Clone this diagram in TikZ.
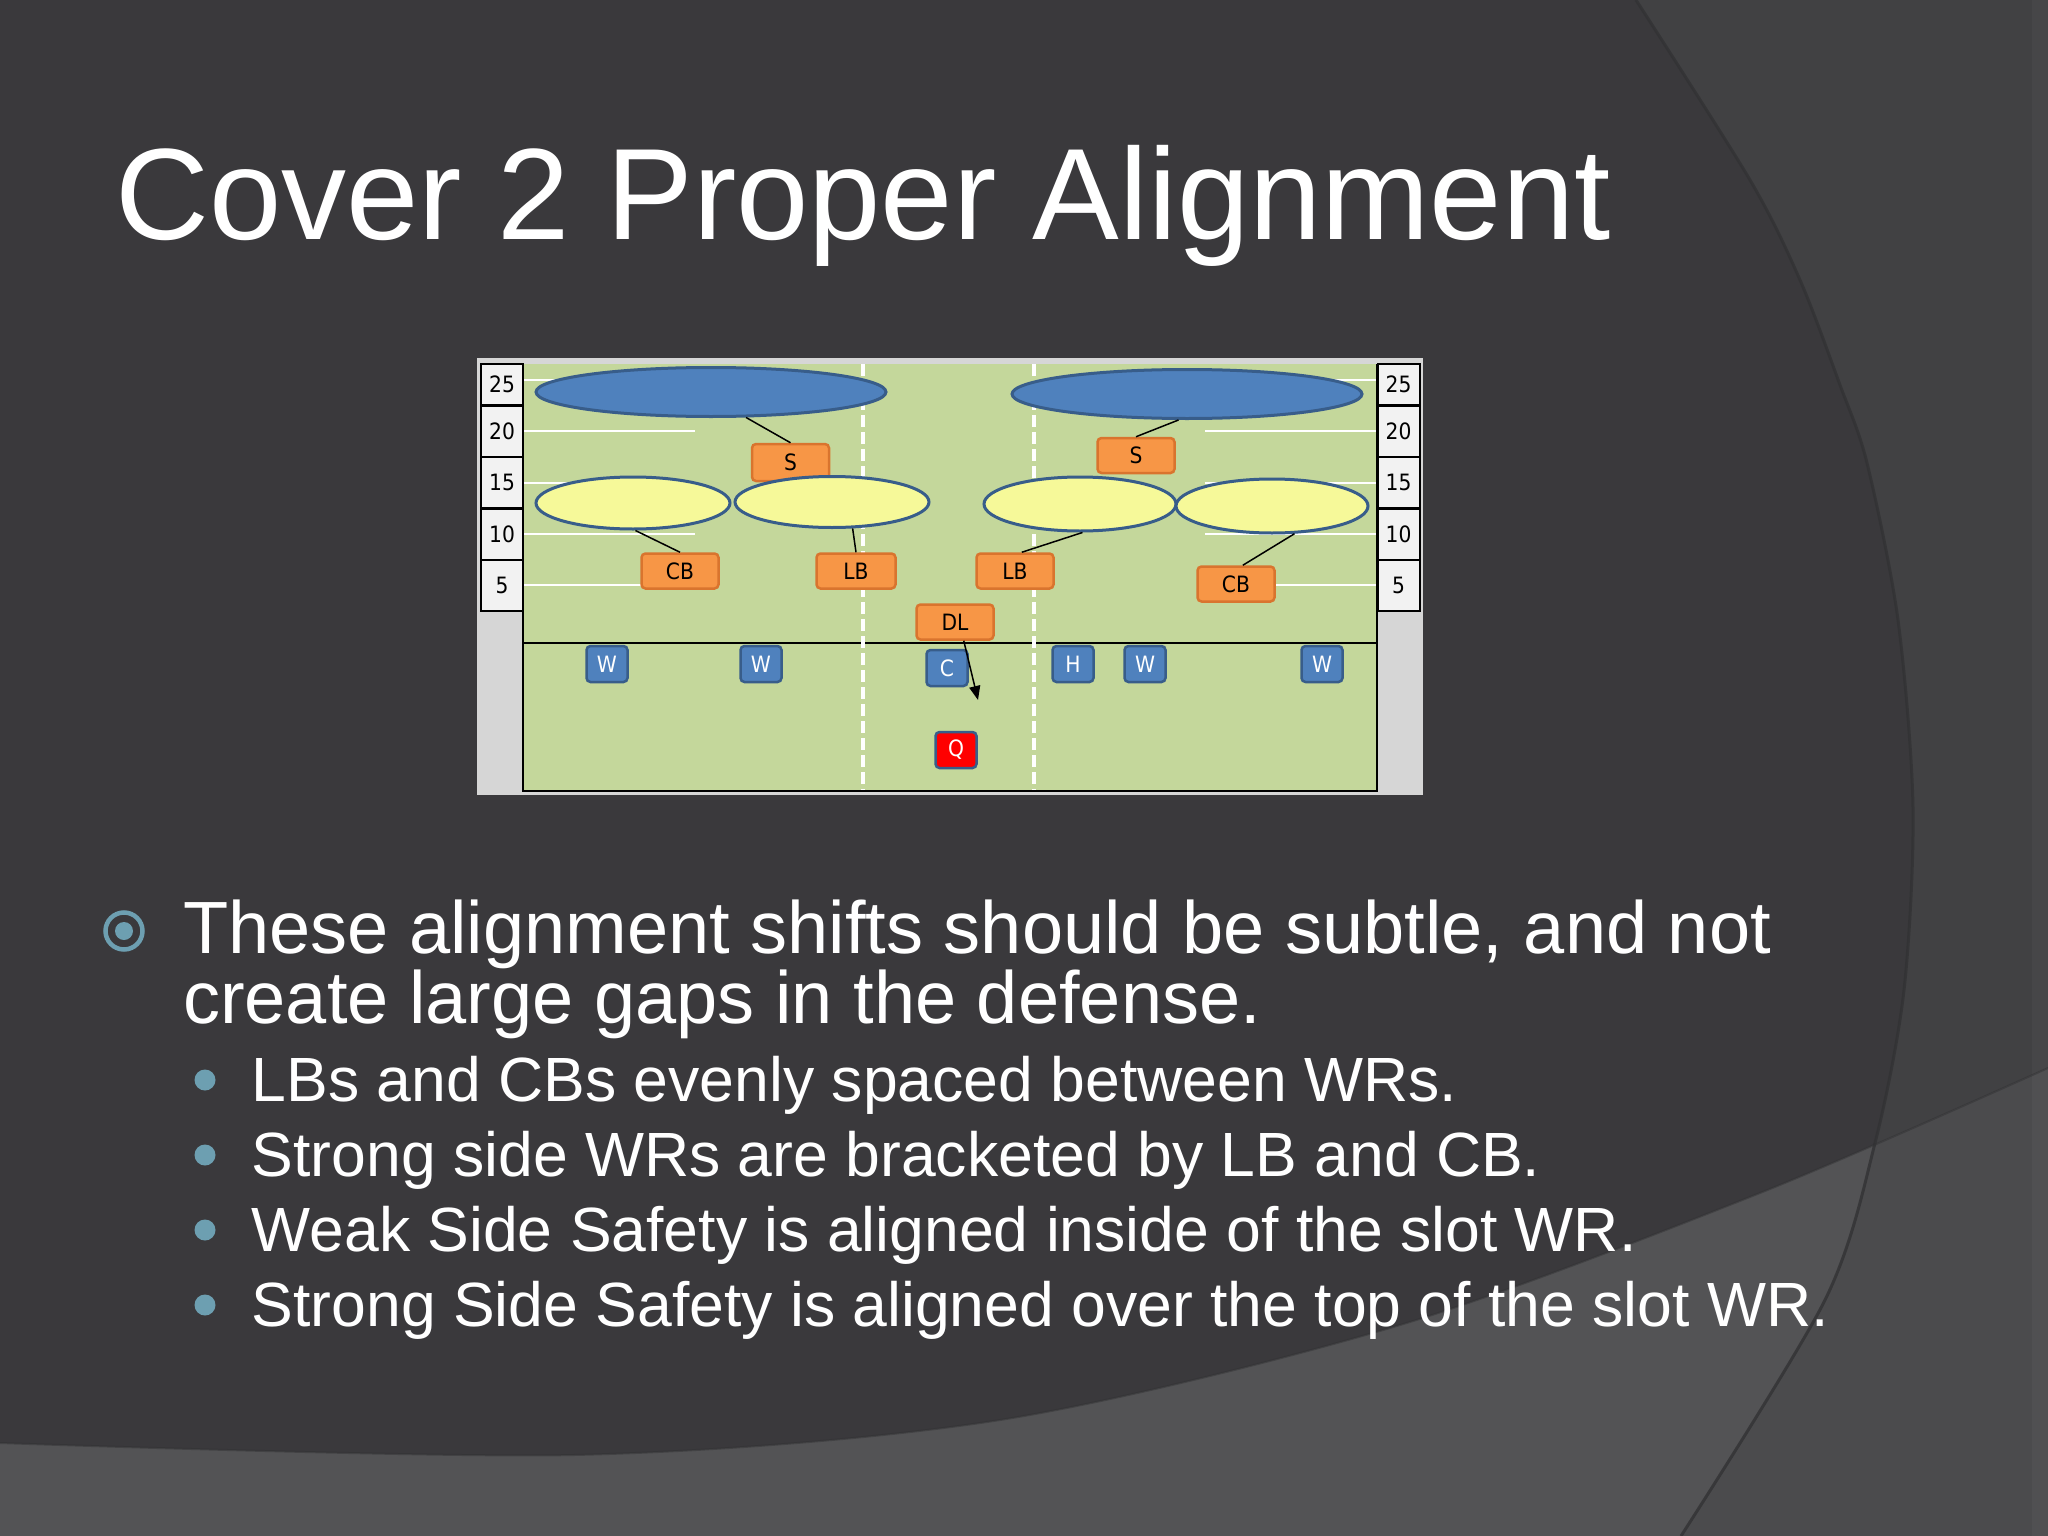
\documentclass[tikz,border=0pt]{standalone}
\usepackage{fontspec}
\setmainfont{Liberation Sans}
\newfontfamily\diagfont[FakeStretch=0.9]{DejaVu Sans}
\usetikzlibrary{arrows.meta,shapes.geometric}
\definecolor{bgdark}{HTML}{3A393C}
\definecolor{bgright}{HTML}{414143}
\definecolor{bgbottom}{HTML}{535355}
\definecolor{bgbottomr}{HTML}{4B4B4D}
\definecolor{arcline}{HTML}{323234}
\definecolor{bulletblue}{HTML}{6D9FB1}
\definecolor{framegrey}{HTML}{D6D6D6}
\definecolor{numfill}{HTML}{F2F2F2}
\definecolor{fieldgreen}{HTML}{C4D79B}
\definecolor{zoneblue}{HTML}{4F81BD}
\definecolor{zoneborder}{HTML}{385D8A}
\definecolor{zoneyellow}{HTML}{F6F999}
\definecolor{deforange}{HTML}{F79646}
\definecolor{deforangeb}{HTML}{D9742E}
\definecolor{qred}{HTML}{FF0000}
\tikzset{
  diagtext/.style={font=\diagfont\fontsize{22.5}{22.5}\selectfont},
  numbox/.style={diagtext, draw=black, line width=2, fill=numfill, minimum width=42, minimum height=51, inner sep=0, text=black},
  defbox/.style={diagtext, rounded corners=4, fill=deforange, draw=deforangeb, line width=2.5, minimum width=77, minimum height=35, inner sep=0, text=black},
  offbox/.style={diagtext, rounded corners=4, fill=zoneblue, draw=zoneborder, line width=2.5, minimum width=41, minimum height=36, inner sep=0, text=white},
  deepzone/.style={ellipse, fill=zoneblue, draw=zoneborder, line width=3, minimum width=350, minimum height=49, inner sep=0},
  flatzone/.style={ellipse, fill=zoneyellow, draw=zoneborder, line width=3, minimum width=194, minimum height=52, inner sep=0},
  yardline/.style={white, line width=2.5},
  hashline/.style={white, line width=4, dash pattern=on 12pt off 5pt},
  link/.style={black, line width=1.5},
  maintext/.style={anchor=base west, inner sep=0, text=white, font=\fontsize{74}{74}\selectfont},
  subtext/.style={anchor=base west, inner sep=0, text=white, font=\fontsize{62.5}{62.5}\selectfont},
}
\begin{document}
\begin{tikzpicture}[x=1pt,y=-1pt]
\useasboundingbox (0,0) rectangle (2048,1536);
\def\arcpath{plot[smooth] coordinates {(1636,0) (1750,180) (1800,280) (1840,385) (1867,463) (1898,620) (1913,808) (1904,990) (1875,1143) (1825,1300) (1681,1536)}}
\def\lowpath{plot[smooth] coordinates {(0,1443) (574,1455) (1000,1420) (1400,1325) (1760,1193) (2048,1068)}}
% background
\fill[bgdark] (0,0) rectangle (2048,1536);
\fill[bgright] \arcpath -- (2048,1536) -- (2048,0) -- cycle;
\fill[bgbottom] \lowpath -- (2048,1536) -- (0,1536) -- cycle;
\begin{scope}
\clip \lowpath -- (2048,1536) -- (0,1536) -- cycle;
\fill[bgbottomr] \arcpath -- (2048,1536) -- (2048,0) -- cycle;
\end{scope}
\fill[white, opacity=0.03] (2032,0) rectangle (2048,1536);
\draw[arcline, line width=3, opacity=0.8] \arcpath;
\draw[arcline, line width=2, opacity=0.5] \lowpath;

% title
\node[anchor=base west, inner sep=0, text=white, font=\fontsize{130}{130}\selectfont] (title) at (115,239) {Cover 2 Proper Alignment};

% diagram frame and field
\fill[framegrey] (477,358) rectangle (1423,795);
\fill[fieldgreen] (523,364) rectangle (1377,791);
\foreach \yy in {380,431,483,534,585} {
  \draw[yardline] (523,\yy) -- (695,\yy);
  \draw[yardline] (1205,\yy) -- (1377,\yy);
}
\draw[black, line width=2] (523,643) -- (1377,643);
\draw[hashline] (863,364) -- (863,791);
\draw[hashline] (1034,364) -- (1034,791);
\draw[black, line width=2] (523,364) -- (523,791) -- (1377,791) -- (1377,364);

% yard number columns
\node[numbox, minimum height=41] (nl25) at (502,384.5) {25};
\node[numbox] (nl20) at (502,431) {20};
\node[numbox] (nl15) at (502,482.5) {15};
\node[numbox] (nl10) at (502,534) {10};
\node[numbox] (nl5) at (502,585.5) {5};
\node[numbox, minimum height=41] (nr25) at (1398.5,384.5) {25};
\node[numbox] (nr20) at (1398.5,431) {20};
\node[numbox] (nr15) at (1398.5,482.5) {15};
\node[numbox] (nr10) at (1398.5,534) {10};
\node[numbox] (nr5) at (1398.5,585.5) {5};

% safeties (under the flat zones)
\node[defbox, minimum height=37] (sL) at (790.5,462.5) {S};
\node[defbox] (sR) at (1136,455.5) {S};

% zones
\node[deepzone] (deepL) at (711,392) {};
\node[deepzone] (deepR) at (1187,394) {};
\node[flatzone] (flatL1) at (633,503) {};
\node[flatzone, minimum height=51] (flatL2) at (832,502) {};
\node[flatzone, minimum width=192, minimum height=54] (flatR1) at (1080,504) {};
\node[flatzone, minimum width=192, minimum height=54] (flatR2) at (1272,506) {};

% defenders
\node[defbox] (cbL) at (680,571) {CB};
\node[defbox, minimum width=79] (lbL) at (856,571) {LB};
\node[defbox] (lbR) at (1015,571) {LB};
\node[defbox] (cbR) at (1236,584) {CB};
\node[defbox] (dl) at (955,622) {DL};

% offense
\node[offbox] (w1) at (607,664) {W};
\node[offbox] (w2) at (761,664) {W};
\node[offbox] (c) at (947,668) {C};
\node[offbox] (h) at (1073,664) {H};
\node[offbox] (w3) at (1145,664) {W};
\node[offbox] (w4) at (1322,664) {W};
\node[offbox, fill=qred] (q) at (956,750) {Q};

% connectors
\draw[link] (deepL.-36) -- (sL.north);
\draw[link] (deepR.-108) -- (sR.north);
\draw[link] (flatL1.-85) -- (cbL.north);
\draw[link] (flatL2.-52) -- (lbL.north);
\draw[link] (flatR1.-85) -- (lbR.70);
\draw[link] (flatR2.-51) -- (cbR.70);
\coordinate (dlend) at (978,700);
\draw[link, -{Triangle[length=14pt,width=11pt]}] (dl.-65) -- (dlend);

% bullets
\draw[bulletblue, line width=4.5] (124,931) circle (18.5);
\fill[bulletblue] (124,931) circle (9);
\foreach \yy in {1080,1155,1230,1305} \fill[bulletblue] (205,\yy) circle (10.5);

% text
\node[maintext] (l1) at (183,953) {These alignment shifts should be subtle, and not};
\node[maintext] (l2) at (183,1023) {create large gaps in the defense.};
\node[subtext] (s1) at (251.5,1101) {LBs and CBs evenly spaced between WRs.};
\node[subtext] (s2) at (251.5,1176) {Strong side WRs are bracketed by LB and CB.};
\node[subtext] (s3) at (251.5,1251) {Weak Side Safety is aligned inside of the slot WR.};
\node[subtext] (s4) at (251.5,1326) {Strong Side Safety is aligned over the top of the slot WR.};
\end{tikzpicture}
\end{document}
